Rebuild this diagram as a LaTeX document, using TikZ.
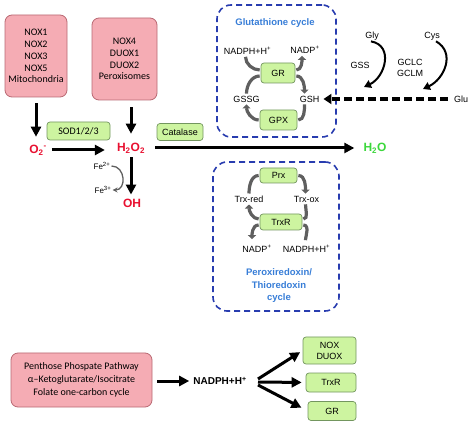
\documentclass[tikz,border=0pt]{standalone}
\usepackage{fontspec}
\setmainfont{Liberation Sans}
\newfontfamily\calibri{Carlito}
\usetikzlibrary{arrows.meta}
\usetikzlibrary{positioning}

\definecolor{boxpink}{RGB}{245,172,180}
\definecolor{boxpinkline}{RGB}{185,105,115}
\definecolor{boxgreen}{RGB}{205,244,160}
\definecolor{boxgreenline}{RGB}{115,150,95}
\definecolor{rosred}{RGB}{232,16,48}
\definecolor{watergreen}{RGB}{60,215,60}
\definecolor{cycleblue}{RGB}{40,60,175}
\definecolor{titleblue}{RGB}{55,125,215}
\definecolor{cyclegrey}{RGB}{95,95,95}

\begin{document}
\begin{tikzpicture}[x = 1pt, y = 1pt,
        pinkbox/.style = {draw = boxpinkline, fill = boxpink, rounded corners = 7pt, line width = 0.8pt,
                          align = center, inner sep = 0pt, font = \calibri\fontsize{10}{11.8}\selectfont},
        greenbox/.style = {draw = boxgreenline, fill = boxgreen, rounded corners = 3pt, line width = 0.7pt,
                           align = center, inner sep = 0pt, font = \fontsize{9}{11}\selectfont},
        ros/.style = {text = rosred, inner sep = 1pt, font = \fontsize{12}{14}\selectfont\bfseries},
        metab/.style = {inner sep = 1pt, align = center, font = \fontsize{9}{11}\selectfont},
        bigarrow/.style = {-{Triangle[length = 10pt, width = 10pt]}, line width = 3pt},
        cyclearrow/.style = {cyclegrey, line width = 3.2pt, shorten <= 1pt, shorten >= 1pt},
        cycletip/.style = {-{Triangle[length = 4pt, width = 8pt]}},
        cyclebox/.style = {draw = cycleblue, dash pattern = on 6pt off 4pt, line width = 1.6pt,
                           rounded corners = 14pt, inner sep = 0pt},
        cycletitle/.style = {text = titleblue, align = center, font = \fontsize{9.5}{12.5}\selectfont\bfseries},
        synth/.style = {-{Triangle[length = 7pt, width = 8pt]}, line width = 2pt}
    ]

    \useasboundingbox (0,0) rectangle (474,426);

    % Sources of ROS:
    \node [pinkbox, minimum width = 62pt, minimum height = 82pt] (Mito) at (36,370)
        {NOX1\\NOX2\\NOX3\\NOX5\\Mitochondria};
    \node [pinkbox, minimum width = 65pt, minimum height = 82pt] (Perox) at (124.5,367)
        {NOX4\\DUOX1\\DUOX2\\Peroxisomes};

    % ROS and enzymes:
    \node [ros] (O2) at (38,276) {O\textsubscript{2}\textsuperscript{-}};
    \node [ros] (H2O2) at (131,278) {H\textsubscript{2}O\textsubscript{2}};
    \node [ros] (OH) at (132,223) {OH};
    \node [ros, text = watergreen] (H2O) at (375,278) {H\textsubscript{2}O};
    \node [greenbox, font = \calibri\fontsize{10}{12}\selectfont, minimum width = 63pt, minimum height = 18pt] (SOD) at (78.5,295) {SOD1/2/3};
    \node [greenbox, minimum width = 46pt, minimum height = 17pt] (Cat) at (180,294) {Catalase};
    \node [metab, font = \fontsize{8}{10}\selectfont] (Fe2) at (102,260) {Fe\textsuperscript{2+}};
    \node [metab, font = \fontsize{8}{10}\selectfont] (Fe3) at (103,236) {Fe\textsuperscript{3+}};

    \draw [bigarrow, shorten <= 6pt, shorten >= 7pt] (Mito.south) -- (Mito.south |- O2.north);
    \draw [bigarrow, shorten <= 7pt, shorten >= 8pt] (H2O2.north |- Perox.south) -- (H2O2.north);
    \draw [bigarrow, shorten <= 4pt, shorten >= 11pt] (O2.east) -- (O2.east -| H2O2.west);
    \draw [bigarrow, shorten <= 9pt, shorten >= 8pt] (H2O2.east) -- (H2O2.east -| H2O.west);
    \draw [bigarrow, shorten <= 3pt, shorten >= 3pt] (H2O2.south) -- (H2O2.south |- OH.north);
    \draw [cyclegrey, line width = 1.3pt, -{Stealth[length = 5pt, width = 5pt]}]
        (Fe2.east) to [out = 0, in = 0, looseness = 1.5] (Fe3.east);

    % Glutathione cycle:
    \node [cyclebox, minimum width = 119pt, minimum height = 132pt] (GlutCycle) at (276.5,355) {};
    \node [cycletitle] (GlutTitle) at (275,403) {Glutathione cycle};
    \node [metab] (NADPHg) at (247.5,375) {NADPH+H\textsuperscript{+}};
    \node [metab] (NADPg) at (305,376) {NADP\textsuperscript{+}};
    \node [greenbox, minimum width = 34pt, minimum height = 20pt] (GR) at (278,353) {GR};
    \node [greenbox, minimum width = 37pt, minimum height = 20pt] (GPX) at (278.5,306) {GPX};
    \node [metab] (GSSG) at (246.5,327) {GSSG};
    \node [metab] (GSH) at (309.5,327) {GSH};

    \draw [cyclearrow] ([xshift = -2pt]NADPHg.south) to [out = -90, in = 180] ([yshift = 3pt]GR.west);
    \draw [cyclearrow, cycletip] ([yshift = 3pt]GR.east) to [out = 0, in = -90] ([xshift = -3pt]NADPg.south);
    \draw [cyclearrow] (GSSG.north) to [out = 90, in = 180] ([yshift = -3pt]GR.west);
    \draw [cyclearrow, cycletip] ([yshift = -3pt]GR.east) to [out = 0, in = 90] ([xshift = -5pt]GSH.north);
    \draw [cyclearrow] ([xshift = -5pt]GSH.south) to [out = -90, in = 0] (GPX.east);
    \draw [cyclearrow, cycletip] (GPX.west) to [out = 180, in = -90] (GSSG.south);

    % Glutathione synthesis:
    \node [metab] (Gly) at (372,390) {Gly};
    \node [metab] (Cys) at (432,390) {Cys};
    \node [metab] (GSS) at (360,361) {GSS};
    \node [metab] (GCL) at (410,358.5) {GCLC\\GCLM};
    \node [metab] (Glu) at (461,327) {Glu};
    \coordinate (GSSend) at (364,339);
    \coordinate (GCLend) at (423,337);

    \draw [synth] ([xshift = -1pt]Gly.south) to [out = -10, in = 25, looseness = 1.3] (GSSend);
    \draw [synth] ([xshift = 4pt]Cys.south) to [out = -30, in = 25, looseness = 1.2] (GCLend);
    \draw [line width = 3.5pt, dash pattern = on 8pt off 4pt, -{Triangle[length = 8pt, width = 10pt]},
           shorten <= 5pt, shorten >= 3pt] (Glu.west) -- (GSH.east);

    % Peroxiredoxin/Thioredoxin cycle:
    \node [cyclebox, minimum width = 126pt, minimum height = 149pt] (PrxCycle) at (276,189.5) {};
    \node [greenbox, minimum width = 37pt, minimum height = 15pt] (Prx) at (278.5,250.5) {Prx};
    \node [greenbox, minimum width = 42pt, minimum height = 16pt] (TrxR) at (281,204) {TrxR};
    \node [metab] (TrxRed) at (249,227) {Trx-red};
    \node [metab] (TrxOx) at (306.5,227) {Trx-ox};
    \node [metab] (NADPt) at (257,177) {NADP\textsuperscript{+}};
    \node [metab] (NADPHt) at (306.5,177) {NADPH+H\textsuperscript{+}};
    \node [cycletitle] (PrxTitle) at (279,140) {Peroxiredoxin/\\Thioredoxin\\cycle};

    \draw [cyclearrow] (TrxRed.north) to [out = 90, in = 180] (Prx.west);
    \draw [cyclearrow, cycletip] (Prx.east) to [out = 0, in = 90] ([xshift = -1pt]TrxOx.north);
    \draw [cyclearrow] ([xshift = -1pt]TrxOx.south) to [out = -90, in = 0] ([yshift = 3pt]TrxR.east);
    \draw [cyclearrow, cycletip] ([yshift = 3pt]TrxR.west) to [out = 180, in = -90] (TrxRed.south);
    \draw [cyclearrow, shorten <= 4pt] ([xshift = -1pt]NADPHt.north) to [out = 90, in = 0] ([yshift = -3pt]TrxR.east);
    \draw [cyclearrow, cycletip, shorten >= 5pt] ([yshift = -3pt]TrxR.west) to [out = 180, in = 90] ([xshift = -5pt]NADPt.north);

    % NADPH sources and uses:
    \node [pinkbox, font = \calibri\fontsize{10}{13}\selectfont, minimum width = 141pt, minimum height = 54pt] (Source) at (81.5,46)
        {Penthose Phospate Pathway\\α–Ketoglutarate/Isocitrate\\Folate one-carbon cycle};
    \node [inner sep = 1pt, font = \fontsize{10}{12}\selectfont\bfseries] (NADPHb) at (220,45) {NADPH+H\textsuperscript{+}};
    \node [greenbox, minimum width = 53pt, minimum height = 27pt] (NOX) at (329.5,75.5) {NOX\\DUOX};
    \node [greenbox, minimum width = 50pt, minimum height = 19pt] (TrxRb) at (331,43.5) {TrxR};
    \node [greenbox, minimum width = 48pt, minimum height = 19pt] (GRb) at (332,15) {GR};
    \coordinate (Fork) at (258,44);

    \draw [bigarrow, shorten <= 5pt, shorten >= 3pt] (Source.east |- NADPHb.west) -- (NADPHb.west);
    \draw [bigarrow, shorten >= 3pt] ([yshift = 3pt]Fork) -- (NOX.west);
    \draw [bigarrow, shorten >= 4pt] (Fork) -- (TrxRb.west);
    \draw [bigarrow, shorten >= 7pt] ([yshift = -3pt]Fork) -- (GRb.west);
\end{tikzpicture}
\end{document}
